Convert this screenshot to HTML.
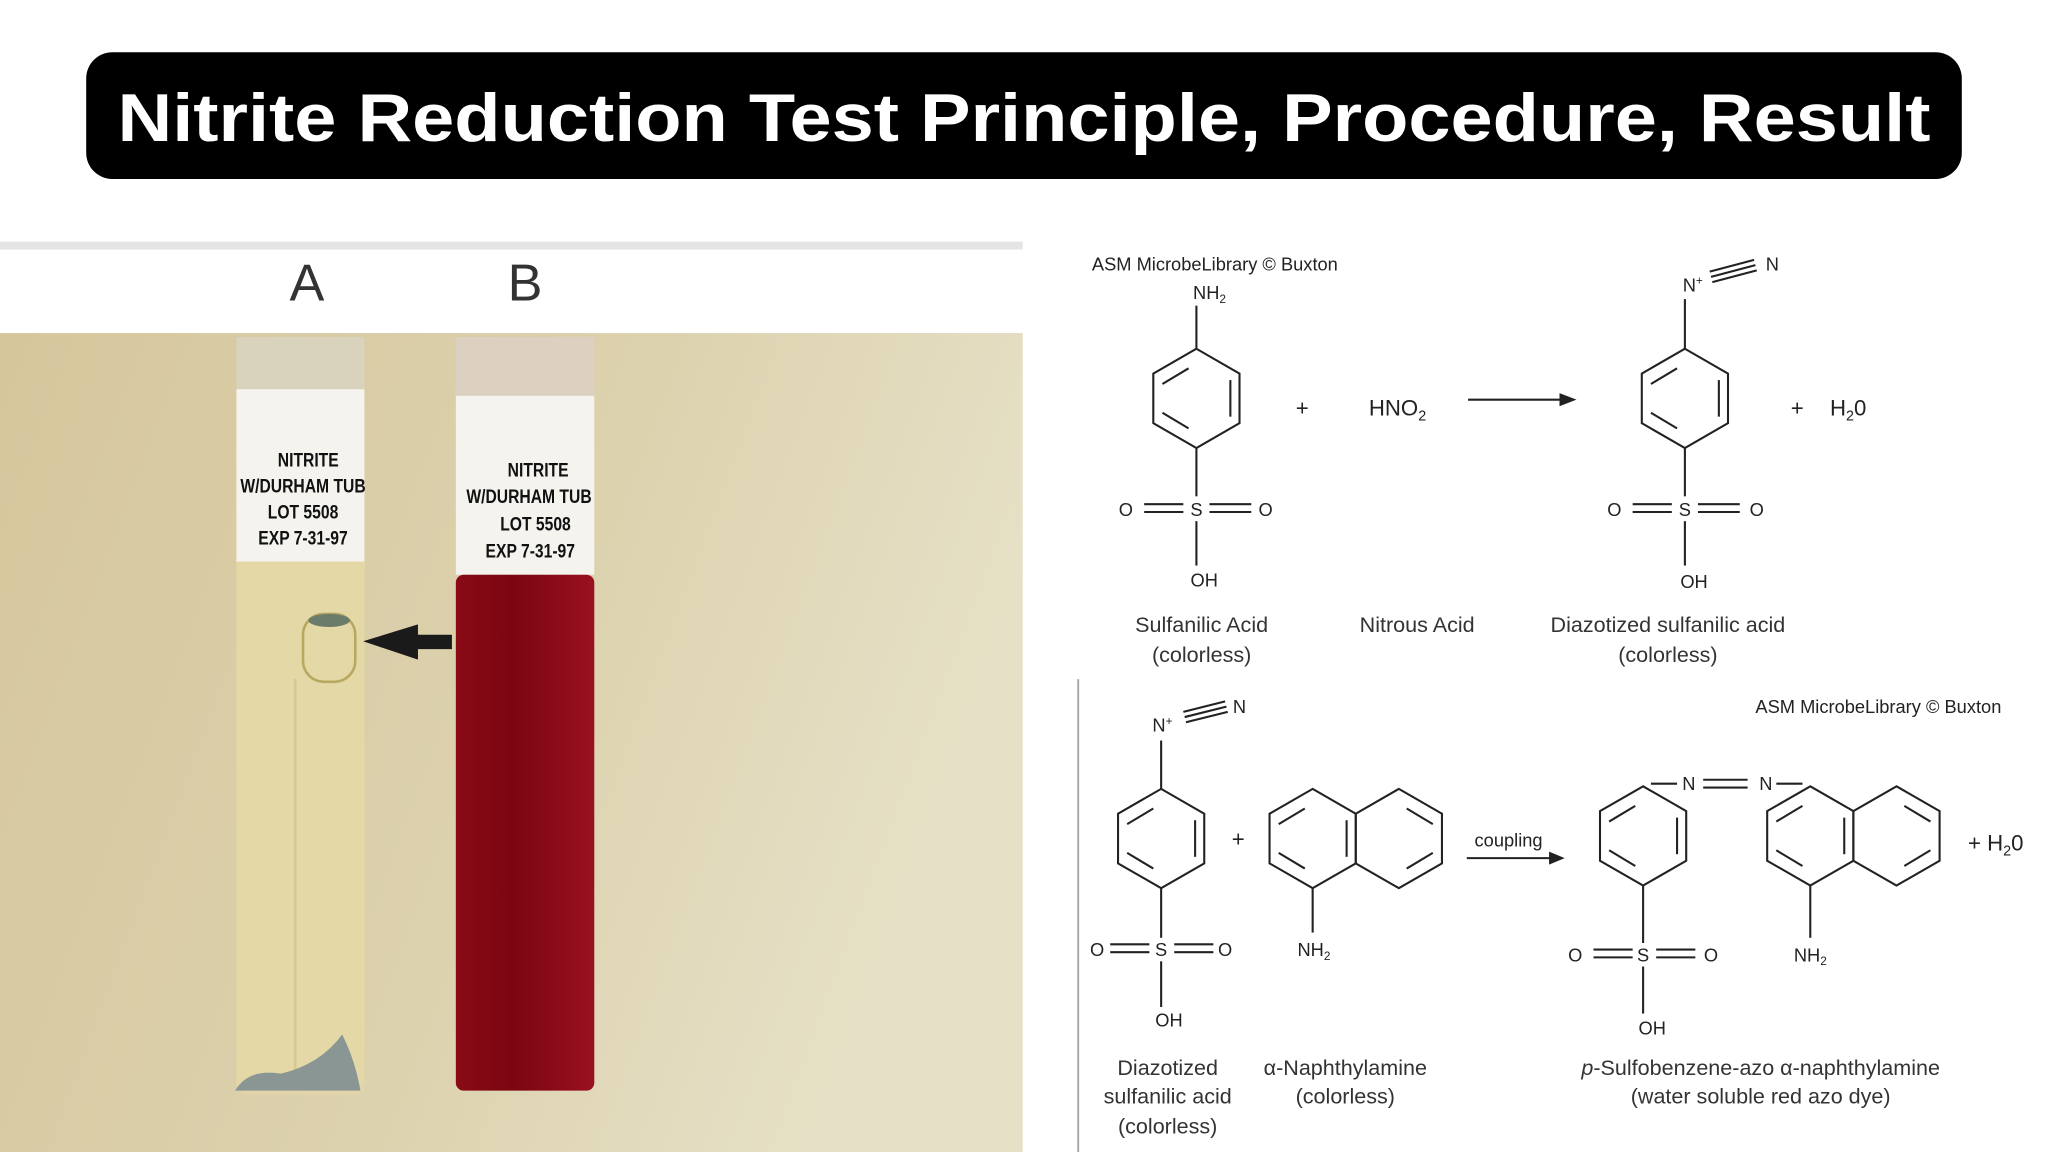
<!DOCTYPE html>
<html><head><meta charset="utf-8"><style>
html,body{margin:0;padding:0;background:#fff;width:2048px;height:1152px;overflow:hidden}
svg{display:block}
text{font-family:"Liberation Sans",sans-serif}
</style></head><body>
<svg width="2048" height="1152" viewBox="0 0 1568 882" xmlns="http://www.w3.org/2000/svg">
<defs>
<linearGradient id="bg" x1="0" y1="0" x2="1" y2="0.3">
<stop offset="0" stop-color="#d6c69c"/><stop offset="0.6" stop-color="#dcd2ae"/><stop offset="1" stop-color="#e6e0c6"/></linearGradient>
<linearGradient id="red" x1="0" x2="1"><stop offset="0" stop-color="#8a0a16"/><stop offset="0.4" stop-color="#7a0612"/><stop offset="1" stop-color="#9a1020"/></linearGradient>
<g id="bz" fill="none" stroke="#222" stroke-width="1.6">
<polygon points="0,-38 33,-19 33,19 0,38 -33,19 -33,-19"/>
<line x1="26" y1="-14" x2="26" y2="14"/><line x1="-26" y1="-11" x2="-6" y2="-23"/><line x1="-26" y1="11" x2="-6" y2="23"/>
</g>
<g id="np" fill="none" stroke="#222" stroke-width="1.6">
<polygon points="0,-38 33,-19 33,19 0,38 -33,19 -33,-19"/>
<polygon points="66,-38 99,-19 99,19 66,38 33,19 33,-19"/>
<line x1="-26" y1="-11" x2="-6" y2="-23"/><line x1="-26" y1="11" x2="-6" y2="23"/><line x1="26" y1="-14" x2="26" y2="14"/>
<line x1="72" y1="-23" x2="92" y2="-11"/><line x1="72" y1="23" x2="92" y2="11"/>
</g>
</defs>
<rect width="1568" height="882" fill="#fff"/>
<rect x="66" y="40" width="1436" height="97" rx="20" fill="#000"/>
<text x="90" y="108" font-size="52" font-weight="bold" fill="#fff" textLength="1388" lengthAdjust="spacingAndGlyphs">Nitrite Reduction Test Principle, Procedure, Result</text>
<rect x="0" y="185" width="783" height="6" fill="#e4e4e4"/>
<text x="235" y="230" text-anchor="middle" font-size="40" fill="#333">A</text>
<text x="402" y="230" text-anchor="middle" font-size="40" fill="#333">B</text>
<rect x="0" y="255" width="783" height="627" fill="url(#bg)"/>
<!-- tube A -->
<rect x="181" y="258" width="98" height="580" rx="8" fill="#e2d6a8" opacity="0.9"/>
<rect x="181" y="258" width="98" height="40" fill="#d9d2bc"/>
<rect x="181" y="298" width="98" height="132" fill="#f4f3ee"/>
<rect x="181" y="430" width="98" height="400" fill="#e4d9a6"/>
<line x1="226" y1="520" x2="226" y2="820" stroke="#d6c890" stroke-width="2"/>
<rect x="232" y="470" width="40" height="52" rx="16" fill="none" stroke="#b8a860" stroke-width="2"/>
<ellipse cx="252" cy="475" rx="16" ry="5" fill="#6c7c6a"/>
<path d="M180 835 Q190 818 215 822 Q245 815 262 792 Q272 812 276 835 Z" fill="#8a9694"/>
<!-- tube B -->
<rect x="349" y="258" width="106" height="45" fill="#dcd0c0"/>
<rect x="349" y="303" width="106" height="137" fill="#f4f3ee"/>
<rect x="349" y="440" width="106" height="395" rx="6" fill="url(#red)"/>
<g font-size="15" font-weight="bold" fill="#111" text-anchor="middle">
<text x="236" y="357" transform="translate(236 0) scale(0.8 1) translate(-236 0)">NITRITE</text>
<text x="232" y="377" transform="translate(232 0) scale(0.8 1) translate(-232 0)">W/DURHAM TUB</text>
<text x="232" y="397" transform="translate(232 0) scale(0.8 1) translate(-232 0)">LOT 5508</text>
<text x="232" y="417" transform="translate(232 0) scale(0.8 1) translate(-232 0)">EXP 7-31-97</text>
<text x="412" y="365" transform="translate(412 0) scale(0.8 1) translate(-412 0)">NITRITE</text>
<text x="405" y="385" transform="translate(405 0) scale(0.8 1) translate(-405 0)">W/DURHAM TUB</text>
<text x="410" y="406" transform="translate(410 0) scale(0.8 1) translate(-410 0)">LOT 5508</text>
<text x="406" y="427" transform="translate(406 0) scale(0.8 1) translate(-406 0)">EXP 7-31-97</text>
</g>
<!-- arrow -->
<polygon points="278,491 320,478 320,486 346,486 346,497 320,497 320,505" fill="#1a1a1a"/>
<!-- chemistry -->
<line x1="825.5" y1="520" x2="825.5" y2="882" stroke="#aaa" stroke-width="1.5"/>
<g fill="#222" font-size="14">
<text x="836" y="207">ASM MicrobeLibrary © Buxton</text>
<text x="1344" y="546">ASM MicrobeLibrary © Buxton</text>
</g>
<g stroke="#222" stroke-width="1.6" fill="none">
<line x1="916" y1="234" x2="916" y2="267"/><line x1="916" y1="343" x2="916" y2="380"/><line x1="916" y1="399" x2="916" y2="433"/>
<line x1="876" y1="386" x2="906" y2="386"/><line x1="876" y1="392" x2="906" y2="392"/>
<line x1="926" y1="386" x2="958" y2="386"/><line x1="926" y1="392" x2="958" y2="392"/>
<line x1="1124" y1="306" x2="1200" y2="306"/>
<line x1="1290" y1="229" x2="1290" y2="267"/><line x1="1290" y1="343" x2="1290" y2="380"/><line x1="1290" y1="399" x2="1290" y2="433"/>
<line x1="1250" y1="386" x2="1280" y2="386"/><line x1="1250" y1="392" x2="1280" y2="392"/>
<line x1="1300" y1="386" x2="1332" y2="386"/><line x1="1300" y1="392" x2="1332" y2="392"/>
<line x1="1309" y1="208" x2="1343" y2="199"/><line x1="1310" y1="212" x2="1344" y2="203"/><line x1="1311" y1="216" x2="1345" y2="207"/>
<line x1="889" y1="567" x2="889" y2="604"/><line x1="889" y1="680" x2="889" y2="718"/><line x1="889" y1="736" x2="889" y2="771"/>
<line x1="850" y1="723" x2="880" y2="723"/><line x1="850" y1="729" x2="880" y2="729"/>
<line x1="899" y1="723" x2="929" y2="723"/><line x1="899" y1="729" x2="929" y2="729"/>
<line x1="906" y1="545" x2="938" y2="537"/><line x1="907" y1="549" x2="939" y2="541"/><line x1="908" y1="553" x2="940" y2="545"/>
<line x1="1005" y1="680" x2="1005" y2="714"/>
<line x1="1123" y1="657" x2="1192" y2="657"/>
<line x1="1258" y1="678" x2="1258" y2="722"/><line x1="1258" y1="740" x2="1258" y2="776"/>
<line x1="1220" y1="727" x2="1250" y2="727"/><line x1="1220" y1="733" x2="1250" y2="733"/>
<line x1="1268" y1="727" x2="1298" y2="727"/><line x1="1268" y1="733" x2="1298" y2="733"/>
<line x1="1386" y1="678" x2="1386" y2="718"/>
<line x1="1264" y1="600" x2="1284" y2="600"/><line x1="1304" y1="597" x2="1338" y2="597"/><line x1="1304" y1="603" x2="1338" y2="603"/><line x1="1360" y1="600" x2="1380" y2="600"/>
</g>
<polygon points="1207,306 1194,301 1194,311" fill="#222"/>
<polygon points="1198,657 1186,652 1186,662" fill="#222"/>
<use href="#bz" x="916" y="305"/>
<use href="#bz" x="1290" y="305"/>
<use href="#bz" x="889" y="642"/>
<use href="#np" x="1005" y="642"/>
<use href="#bz" x="1258" y="640"/>
<use href="#np" x="1386" y="640"/>
<g fill="#222" font-size="14" text-anchor="middle">
<text x="926" y="229">NH<tspan font-size="9" dy="3">2</tspan></text>
<text x="862" y="395">O</text><text x="916" y="395">S</text><text x="969" y="395">O</text><text x="922" y="449">OH</text>
<text x="1236" y="395">O</text><text x="1290" y="395">S</text><text x="1345" y="395">O</text><text x="1297" y="450">OH</text>
<text x="1296" y="223">N<tspan font-size="9" dy="-5">+</tspan></text><text x="1357" y="207">N</text>
<text x="890" y="560">N<tspan font-size="9" dy="-5">+</tspan></text><text x="949" y="546">N</text>
<text x="840" y="732">O</text><text x="889" y="732">S</text><text x="938" y="732">O</text><text x="895" y="786">OH</text>
<text x="1006" y="732">NH<tspan font-size="9" dy="3">2</tspan></text>
<text x="1206" y="736">O</text><text x="1258" y="736">S</text><text x="1310" y="736">O</text><text x="1265" y="792">OH</text>
<text x="1386" y="736">NH<tspan font-size="9" dy="3">2</tspan></text>
<text x="1293" y="605">N</text><text x="1352" y="605">N</text>
</g>
<g fill="#222" font-size="17" text-anchor="middle">
<text x="997" y="318">+</text><text x="1070" y="318">HNO<tspan font-size="11" dy="4">2</tspan></text>
<text x="1376" y="318">+</text><text x="1415" y="318">H<tspan font-size="11" dy="4">2</tspan><tspan dy="-4">0</tspan></text>
<text x="948" y="648">+</text><text x="1528" y="651">+ H<tspan font-size="11" dy="4">2</tspan><tspan dy="-4">0</tspan></text>
<text x="1155" y="648" font-size="14">coupling</text>
</g>
<g fill="#333" font-size="16.5" text-anchor="middle">
<text x="920" y="484">Sulfanilic Acid</text><text x="920" y="507">(colorless)</text>
<text x="1085" y="484">Nitrous Acid</text>
<text x="1277" y="484">Diazotized sulfanilic acid</text><text x="1277" y="507">(colorless)</text>
<text x="894" y="823">Diazotized</text><text x="894" y="845">sulfanilic acid</text><text x="894" y="868">(colorless)</text>
<text x="1030" y="823">α-Naphthylamine</text><text x="1030" y="845">(colorless)</text>
<text x="1348" y="823"><tspan font-style="italic">p</tspan>-Sulfobenzene-azo α-naphthylamine</text><text x="1348" y="845">(water soluble red azo dye)</text>
</g>
</svg>
</body></html>
